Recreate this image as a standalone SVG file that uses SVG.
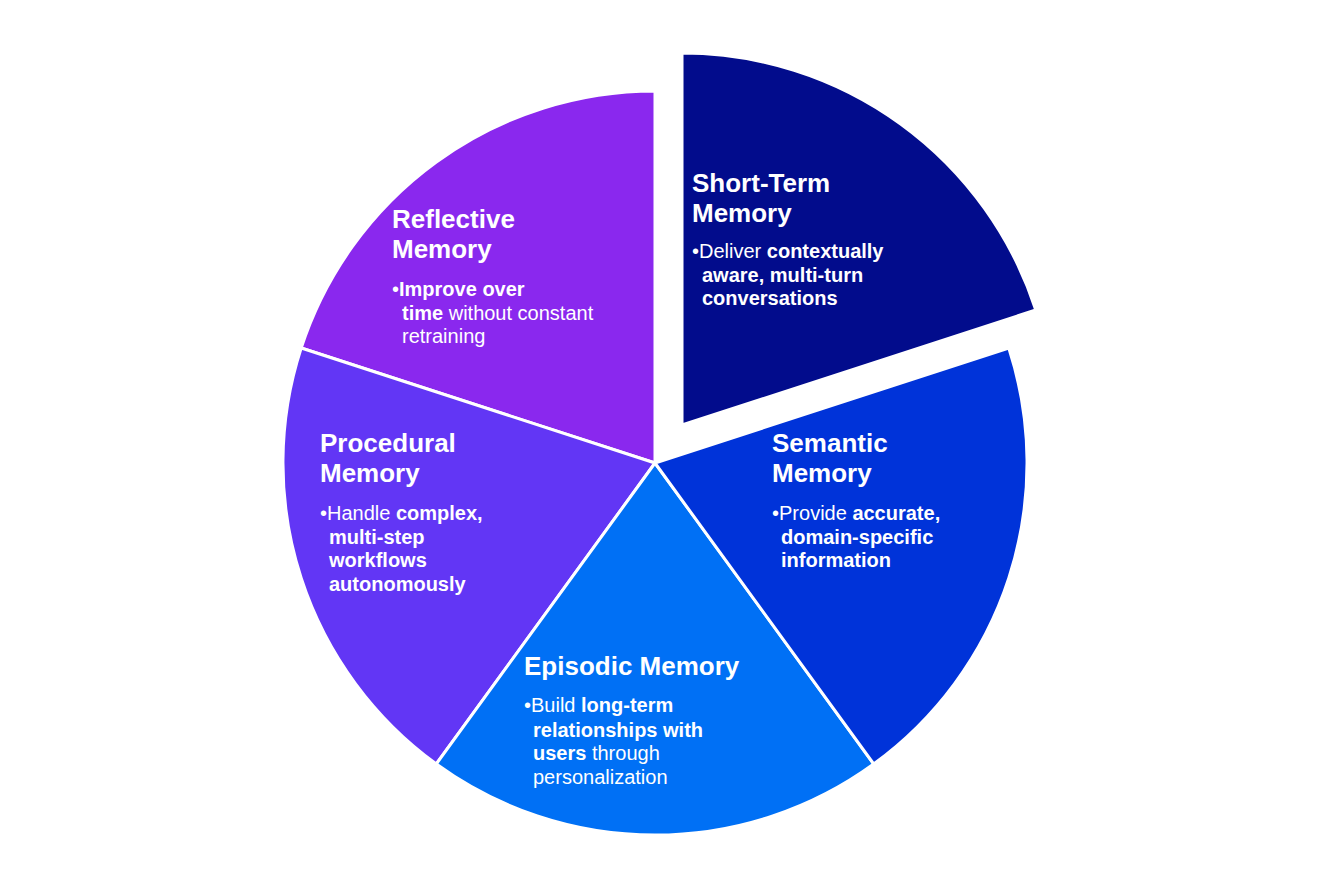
<svg xmlns="http://www.w3.org/2000/svg" width="1334" height="889" viewBox="0 0 1334 889">
<style>
.s{stroke:#fff;stroke-width:3;stroke-linejoin:round}
text{font-family:"Liberation Sans",Arial,sans-serif;fill:#fff}
.t{font-size:26px;font-weight:bold}
.b{font-size:20px}
.k{font-weight:bold}
</style>
<rect width="1334" height="889" fill="#fff"/>
<g id="reflective"><path class="s" fill="#8A28EE" d="M655 463 L655 91 A372 372 0 0 0 301.2 348 Z"/>
<text class="t" x="392" y="228">Reflective</text><text class="t" x="392" y="258">Memory</text>
<text class="b"><tspan x="392" y="296">•<tspan class="k">Improve over</tspan></tspan><tspan x="402" y="320"><tspan class="k">time</tspan> without constant</tspan><tspan x="402" y="343">retraining</tspan></text></g>
<g id="procedural"><path class="s" fill="#6236F5" d="M655 463 L301.2 348 A372 372 0 0 0 436.3 764 Z"/>
<text class="t" x="320" y="452">Procedural</text><text class="t" x="320" y="482">Memory</text>
<text class="b"><tspan x="320" y="520">•Handle <tspan class="k">complex,</tspan></tspan><tspan x="329" y="544" class="k">multi-step</tspan><tspan x="329" y="567" class="k">workflows</tspan><tspan x="329" y="591" class="k">autonomously</tspan></text></g>
<g id="episodic"><path class="s" fill="#0070F5" d="M655 463 L436.3 764 A372 372 0 0 0 873.7 764 Z"/>
<text class="t" x="524" y="675">Episodic Memory</text>
<text class="b"><tspan x="524" y="712">•Build <tspan class="k">long-term</tspan></tspan><tspan x="533" y="737" class="k">relationships with</tspan><tspan x="533" y="760"><tspan class="k">users</tspan> through</tspan><tspan x="533" y="784">personalization</tspan></text></g>
<g id="semantic"><path class="s" fill="#0033D9" d="M655 463 L873.7 764 A372 372 0 0 0 1008.8 348 Z"/>
<text class="t" x="772" y="452">Semantic</text><text class="t" x="772" y="482">Memory</text>
<text class="b"><tspan x="772" y="520">•Provide <tspan class="k">accurate,</tspan></tspan><tspan x="781" y="544" class="k">domain-specific</tspan><tspan x="781" y="567" class="k">information</tspan></text></g>
<g id="short-term"><path class="s" fill="#020C8C" d="M682 425 L682 53 A372 372 0 0 1 1035.8 310 Z"/>
<text class="t" x="692" y="192">Short-Term</text><text class="t" x="692" y="222">Memory</text>
<text class="b"><tspan x="692" y="258">•Deliver <tspan class="k">contextually</tspan></tspan><tspan x="702" y="282" class="k">aware, multi-turn</tspan><tspan x="702" y="305" class="k">conversations</tspan></text></g>
<g id="connectors"/>
</svg>
